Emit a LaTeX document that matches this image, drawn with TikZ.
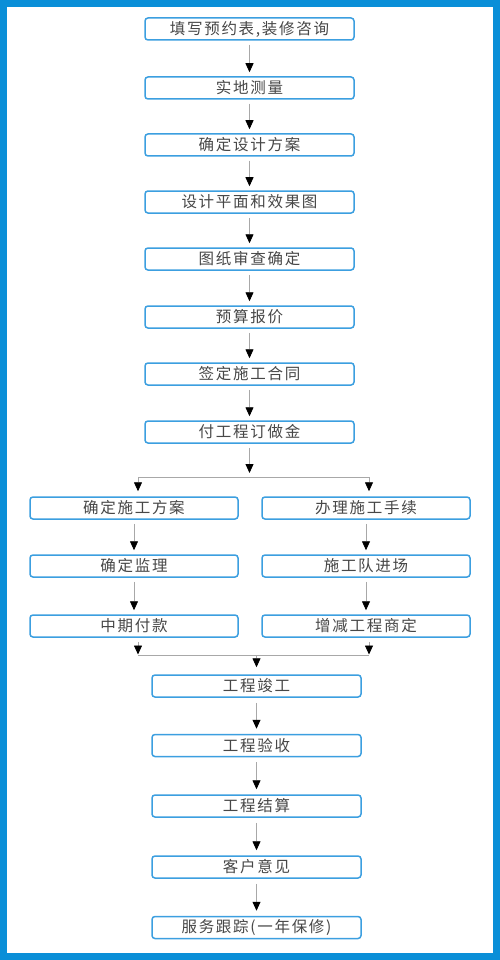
\documentclass[tikz,border=0pt]{standalone}
\usepackage{fontspec}
\newfontfamily\cjk[LetterSpace=11]{Noto Sans CJK SC}
\usetikzlibrary{arrows.meta}
\definecolor{framebl}{HTML}{0A8FD8}
\definecolor{boxbl}{HTML}{3C9FE0}
\definecolor{txtgr}{HTML}{474747}
\definecolor{linegr}{HTML}{A8A8A8}

\begin{document}
\begin{tikzpicture}[x=1pt,y=-1pt,
  stepbox/.style={draw=boxbl,line width=1.5pt,rounded corners=3pt,fill=white,
    minimum width=209pt,minimum height=22pt,inner sep=0pt,text=txtgr,
    font=\cjk\fontsize{15.5pt}{15.5pt}\selectfont},
  arr/.style={draw=linegr,line width=0.8pt,
    -{Triangle[width=8pt,length=9pt,color=black]},shorten <=4pt,shorten >=4pt},
  ln/.style={draw=linegr,line width=0.8pt}]
  % frame
  \fill[framebl] (0,0) rectangle (500,960);
  \fill[white] (7,7) rectangle (493,953);
  % main column
  \node[stepbox] (b1) at (249.5,29) {填写预约表,装修咨询};
  \node[stepbox] (b2) at (249.5,88) {实地测量};
  \node[stepbox] (b3) at (249.5,145) {确定设计方案};
  \node[stepbox] (b4) at (249.5,202) {设计平面和效果图};
  \node[stepbox] (b5) at (249.5,259) {图纸审查确定};
  \node[stepbox] (b6) at (249.5,317) {预算报价};
  \node[stepbox] (b7) at (249.5,374) {签定施工合同};
  \node[stepbox] (b8) at (249.5,432) {付工程订做金};
  \draw[arr] (b1) -- (b2);
  \draw[arr] (b2) -- (b3);
  \draw[arr] (b3) -- (b4);
  \draw[arr] (b4) -- (b5);
  \draw[arr] (b5) -- (b6);
  \draw[arr] (b6) -- (b7);
  \draw[arr] (b7) -- (b8);
  % two branches
  \node[stepbox,minimum width=208pt] (l1) at (134,508) {确定施工方案};
  \node[stepbox,minimum width=208pt] (l2) at (134,566) {确定监理};
  \node[stepbox,minimum width=208pt] (l3) at (134,626) {中期付款};
  \node[stepbox,minimum width=208pt] (r1) at (366,508) {办理施工手续};
  \node[stepbox,minimum width=208pt] (r2) at (366,566) {施工队进场};
  \node[stepbox,minimum width=208pt] (r3) at (366,626) {增减工程商定};
  \coordinate (sp) at (249.5,477);
  \coordinate (spl) at (138,477);
  \coordinate (spr) at (369,477);
  \draw[arr] (b8) -- (sp);
  \draw[ln] (spl) -- (spr);
  \draw[arr,shorten <=0pt,shorten >=5pt] (spl) -- (spl |- l1.north);
  \draw[arr,shorten <=0pt,shorten >=5pt] (spr) -- (spr |- r1.north);
  \draw[arr] (l1) -- (l2);
  \draw[arr] (l2) -- (l3);
  \draw[arr] (r1) -- (r2);
  \draw[arr] (r2) -- (r3);
  % join
  \coordinate (jn) at (256.5,655);
  \coordinate (jnl) at (138,655);
  \coordinate (jnr) at (369,655);
  \draw[arr,shorten >=0.5pt] (l3.south -| jnl) -- (jnl);
  \draw[arr,shorten >=0.5pt] (r3.south -| jnr) -- (jnr);
  \draw[ln] (jnl) -- (jnr);
  % lower column
  \node[stepbox] (c1) at (256.5,686) {工程竣工};
  \node[stepbox] (c2) at (256.5,745.5) {工程验收};
  \node[stepbox] (c3) at (256.5,806) {工程结算};
  \node[stepbox] (c4) at (256.5,867) {客户意见};
  \node[stepbox] (c5) at (256.5,927.5) {服务跟踪(一年保修)};
  \draw[arr,shorten <=0pt,shorten >=7pt] (jn) -- (c1.north);
  \draw[arr,shorten <=5pt,shorten >=5pt] (c1) -- (c2);
  \draw[arr,shorten <=5pt,shorten >=5pt] (c2) -- (c3);
  \draw[arr,shorten <=5pt,shorten >=5pt] (c3) -- (c4);
  \draw[arr,shorten <=5pt,shorten >=5pt] (c4) -- (c5);
\end{tikzpicture}
\end{document}
